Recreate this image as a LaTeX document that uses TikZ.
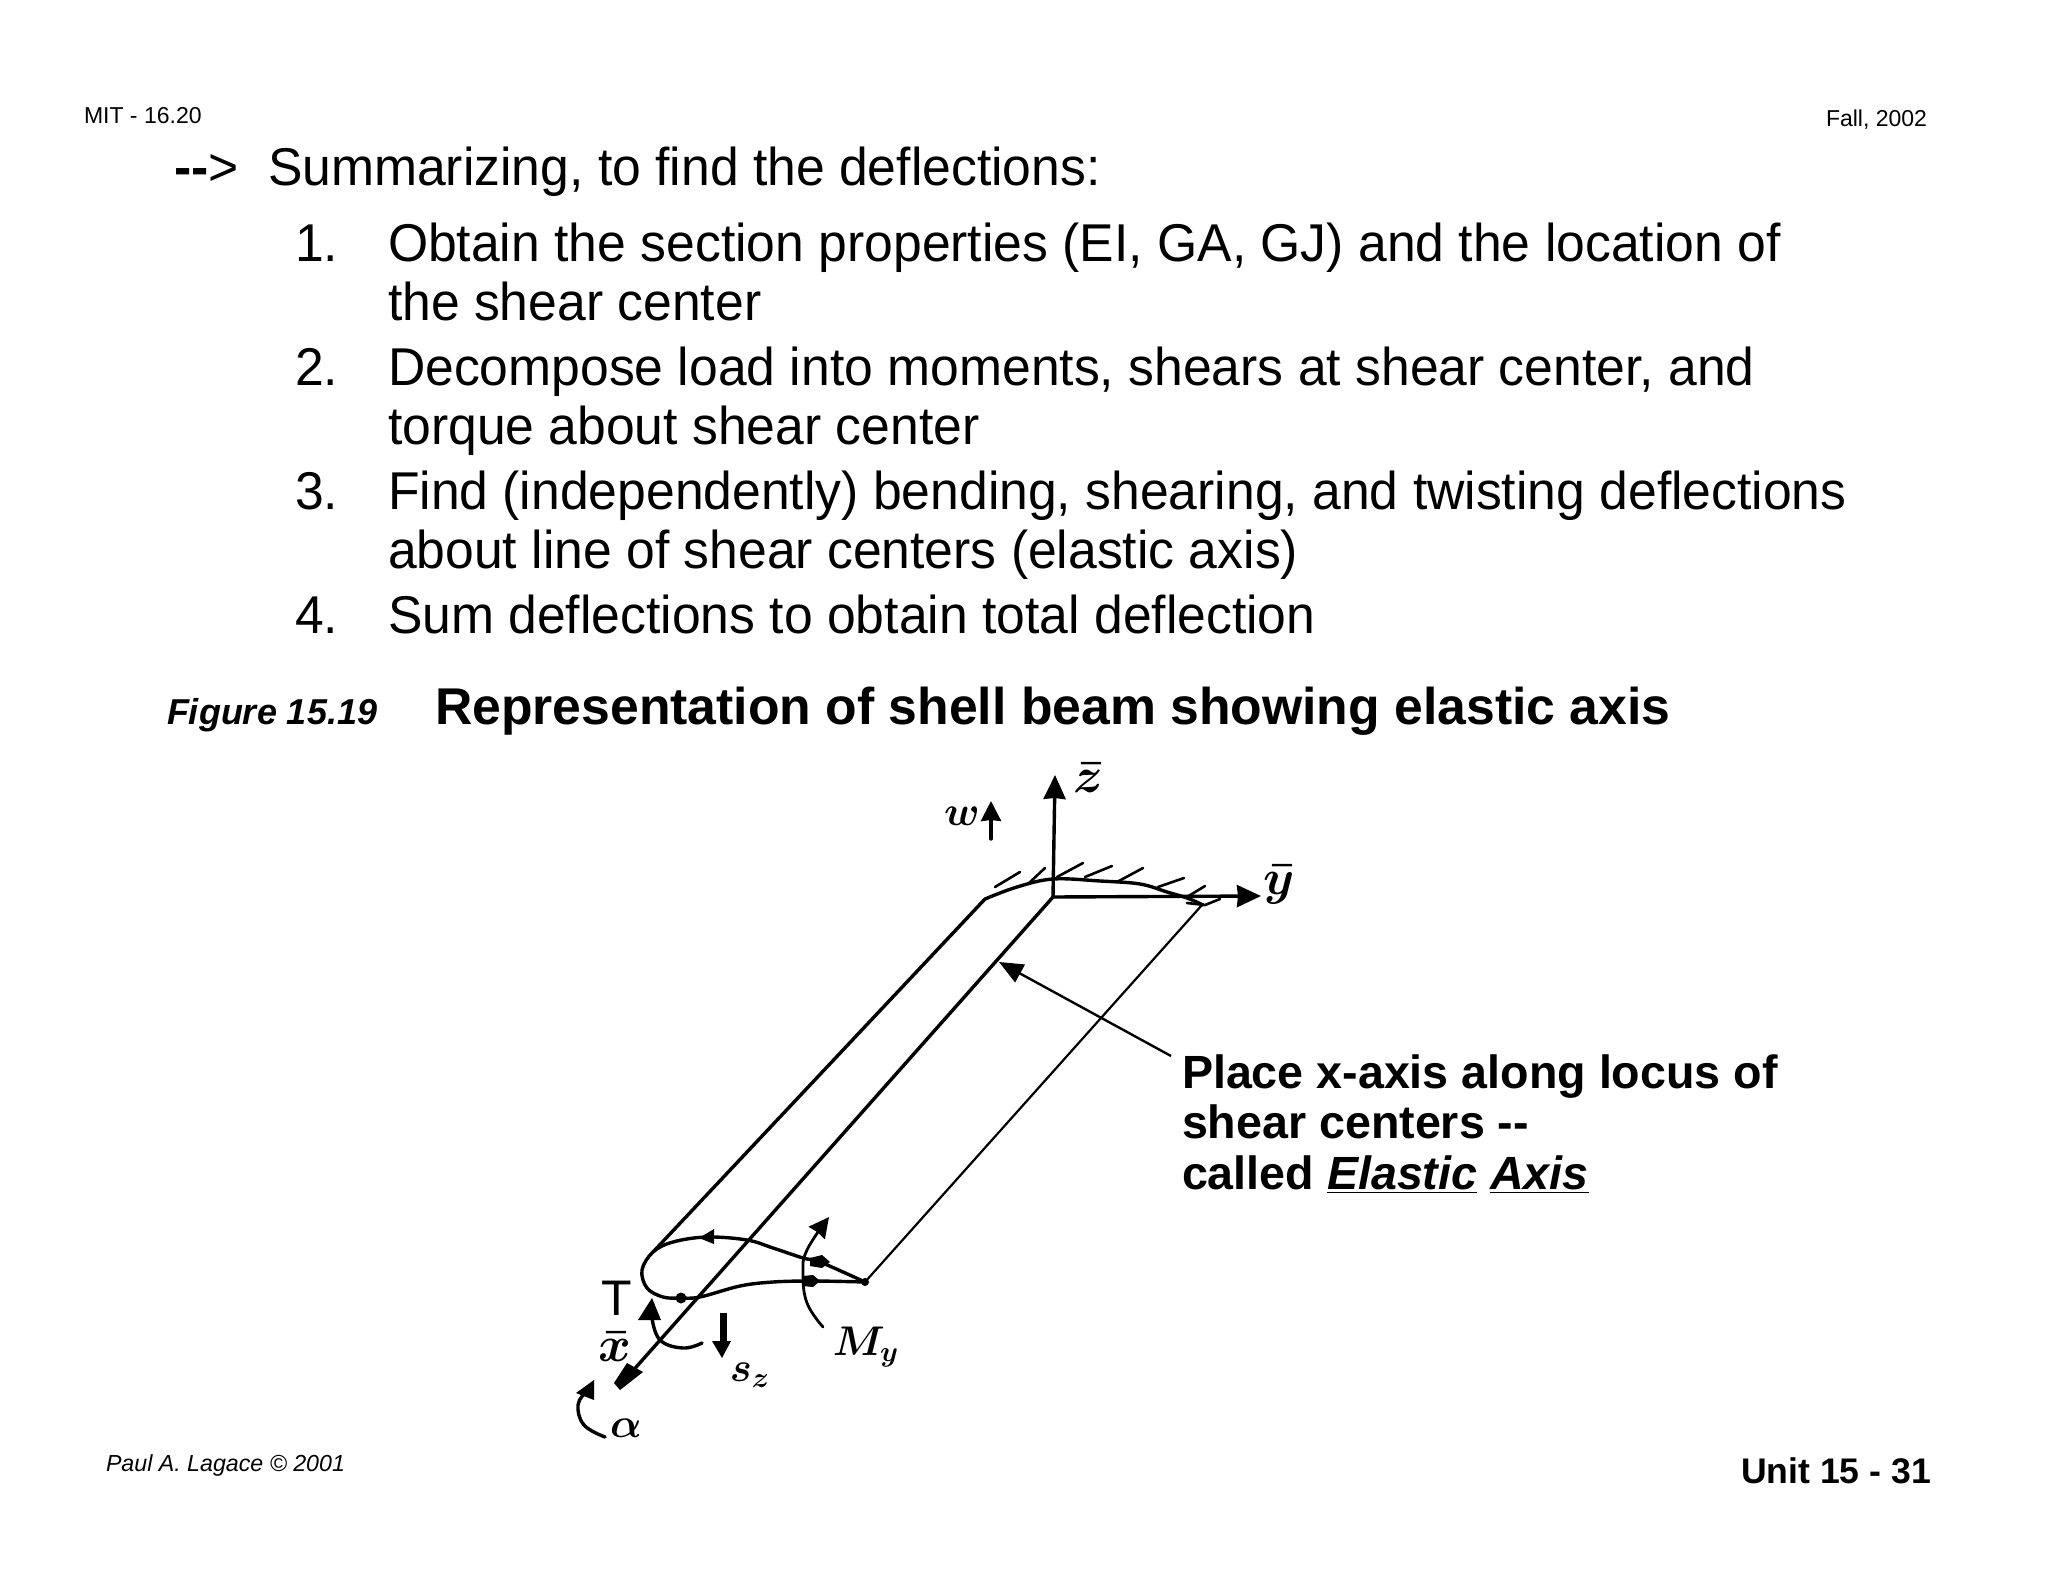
\documentclass[tikz,border=0pt]{standalone}
\usepackage{fontspec}
\setmainfont{Liberation Sans}
\newfontfamily\bodyfont[FakeStretch=0.971]{Liberation Sans}
\usetikzlibrary{arrows.meta}
\newcommand{\fsz}[1]{\fontsize{#1}{#1}\selectfont}
\tikzset{
  txt/.style={anchor=base west,inner sep=0pt,outer sep=0pt,text=black},
  rtxt/.style={anchor=base east,inner sep=0pt,outer sep=0pt,text=black},
  body/.style={txt,font=\bodyfont\fsz{26.6}},
  small/.style={font=\fsz{11.5}},
  anno/.style={txt,font=\fsz{23.3}\bfseries},
  hand/.style={inner sep=0pt,outer sep=0pt,text=black,font=\fsz{25}\boldmath},
  handsmall/.style={inner sep=0pt,outer sep=0pt,text=black,font=\fsz{21}\boldmath},
  ink/.style={line width=1.7pt,line cap=round,line join=round,black},
  inkthin/.style={line width=1.1pt,line cap=round,line join=round,black},
  hatch/.style={line width=1.3pt,line cap=round,black},
  bighead/.style={-{Stealth[length=12pt,width=11pt,inset=0.5pt]}},
  midhead/.style={-{Stealth[length=10pt,width=10pt,inset=0.5pt]}},
  bead/.style={circle,fill=black,inner sep=0pt,minimum size=5.5pt,draw=none}
}
\begin{document}
\begin{tikzpicture}[x=0.5pt,y=-0.5pt]
\useasboundingbox (0,0) rectangle (2048,1582);
% header
\node[txt,small] (mit) at (84,124) {MIT - 16.20};
\node[rtxt,small] (fall) at (1927,127) {Fall, 2002};
\node[body] (dash) at (174,186) {\textbf{-{}-}>};
\node[body] (summ) at (268,186) {Summarizing, to find the deflections:};
% list
\node[body] (n1) at (295,262) {1.};
\node[body] (t1a) at (388,262) {Obtain the section properties (EI, GA, GJ) and the location of};
\node[body] (t1b) at (388,321) {the shear center};
\node[body] (n2) at (295,386) {2.};
\node[body] (t2a) at (388,386) {Decompose load into moments, shears at shear center, and};
\node[body] (t2b) at (388,445) {torque about shear center};
\node[body] (n3) at (295,510) {3.};
\node[body] (t3a) at (388,510) {Find (independently) bending, shearing, and twisting deflections};
\node[body] (t3b) at (388,568) {about line of shear centers (elastic axis)};
\node[body] (n4) at (295,633) {4.};
\node[body] (t4a) at (388,633) {Sum deflections to obtain total deflection};
% figure title
\node[txt,font=\fsz{18}\bfseries\itshape] (figno) at (167,724) {Figure 15.19};
\node[txt,font=\fsz{25.85}\bfseries] (figtitle) at (435,724) {Representation of shell beam showing elastic axis};
% annotation
\node[anno] (n1l) at (1182,1088) {Place x-axis along locus of};
\node[anno] (n2l) at (1182,1138) {shear centers -{}-};
\node[anno] (n3l) at (1182,1189) {called \underline{\itshape Elastic} \underline{\itshape Axis}};
% footer
\node[txt,font=\fsz{11.6}\itshape] (paul) at (106,1471) {Paul A. Lagace © 2001};
\node[rtxt,font=\fsz{17.8}\bfseries] (unit) at (1931,1483) {Unit 15 - 31};
% beam
\coordinate (O) at (1053,897);
\coordinate (le) at (985,899);
\coordinate (te) at (1202,905);
\coordinate (leTip) at (653,1252);
\coordinate (teTip) at (865,1282);
\coordinate (xEnd) at (622,1383);
\draw[ink] (le) -- (leTip);
\draw[inkthin] (te) -- (teTip);
% axes
\coordinate (zEnd) at (1055,775);
\coordinate (yEnd) at (1261,896);
\draw[ink,bighead] (O) -- (zEnd);
\draw[ink,bighead] (O) -- (yEnd);
\draw[ink] (O) -- (xEnd);
\fill[black] (627,1363) -- (643,1372) -- (620,1390) -- (614,1383) -- cycle;
% root section with hatching
\draw[ink] plot[smooth,tension=0.6] coordinates {(le) (1017,887) (1053,879) (1100,881) (1140,884) (1167,892) (1187,898) (1203,905)};
\draw[hatch] (995,887) -- (1020,872);
\draw[hatch] (1028,884) -- (1045,868);
\draw[hatch] (1057,877) -- (1083,863);
\draw[hatch] (1085,877) -- (1112,866);
\draw[hatch] (1117,882) -- (1143,868);
\draw[hatch] (1158,887) -- (1184,878);
\draw[hatch] (1187,897) -- (1205,886);
\draw[hatch] (1187,903) -- (1205,905) -- (1220,899);
% tip airfoil
\draw[ink] plot[smooth,tension=0.6] coordinates {(teTip) (820,1262) (803,1258) (773,1248) (747,1240) (707,1237) (673,1242) (653,1252) (642,1270) (647,1288) (663,1297) (680,1298) (700,1297) (740,1286) (773,1282) (813,1281) (teTip)};
\node[bead] (b4) at (681,1298) {};
\node[circle,fill=black,inner sep=0pt,minimum size=4pt] (b5) at (865,1282) {};
\fill[black] (714,1229) -- (714,1244) -- (699,1238) -- cycle;
\fill[black] (810,1258) -- (822,1255) -- (830,1262) -- (822,1268) -- (810,1266) -- cycle;
\fill[black] (803,1276) -- (813,1275) -- (820,1281) -- (813,1287) -- (803,1286) -- cycle;
% My
\coordinate (myS) at (823,1327);
\coordinate (myE) at (829,1217);
\draw[inkthin,line width=1.4pt,midhead] plot[smooth,tension=0.7] coordinates {(myS) (807,1303) (803,1273) (807,1250) (829,1217)};
% T
\coordinate (tS) at (702,1343);
\coordinate (tE) at (652,1298);
\draw[ink] plot[smooth,tension=0.7] coordinates {(tS) (683,1348) (660,1340) (652,1318)};
\fill[black] (652,1298) -- (661,1320) -- (638,1320) -- cycle;
% Sz
\coordinate (szS) at (723,1313);
\coordinate (szE) at (722,1358);
\draw[line width=3.5pt,black] (szS) -- (723,1345);
\fill[black] (712,1341) -- (731,1341) -- (722,1358) -- cycle;
% alpha
\coordinate (aS) at (605,1437);
\draw[ink] plot[smooth,tension=0.7] coordinates {(aS) (584,1425) (578,1405) (586,1392)};
\fill[black] (594,1380) -- (594,1400) -- (576,1393) -- cycle;
% w
\coordinate (wS) at (991,839);
\coordinate (wE) at (991,801);
\draw[ink,midhead] (wS) -- (wE);
% annotation leader
\coordinate (leadS) at (1171,1056);
\coordinate (leadE) at (999,962);
\draw[line width=1.2pt,black,-{Stealth[length=12pt,width=10pt,inset=0pt]}] (leadS) -- (leadE);
% hand labels
\node[hand] (zl) at (1088,778) {$\bar z$};
\node[handsmall] (wl) at (962,816) {$w$};
\node[hand] (yl) at (1279,885) {$\bar y$};
\node[hand] (Tl) at (617,1298) {T};
\node[hand] (xl) at (615,1347) {$\bar x$};
\node[handsmall] (szl) at (750,1375) {$s_z$};
\node[handsmall] (myl) at (866,1347) {$M_y$};
\node[handsmall] (al) at (626,1428) {$\alpha$};
\end{tikzpicture}
\end{document}
